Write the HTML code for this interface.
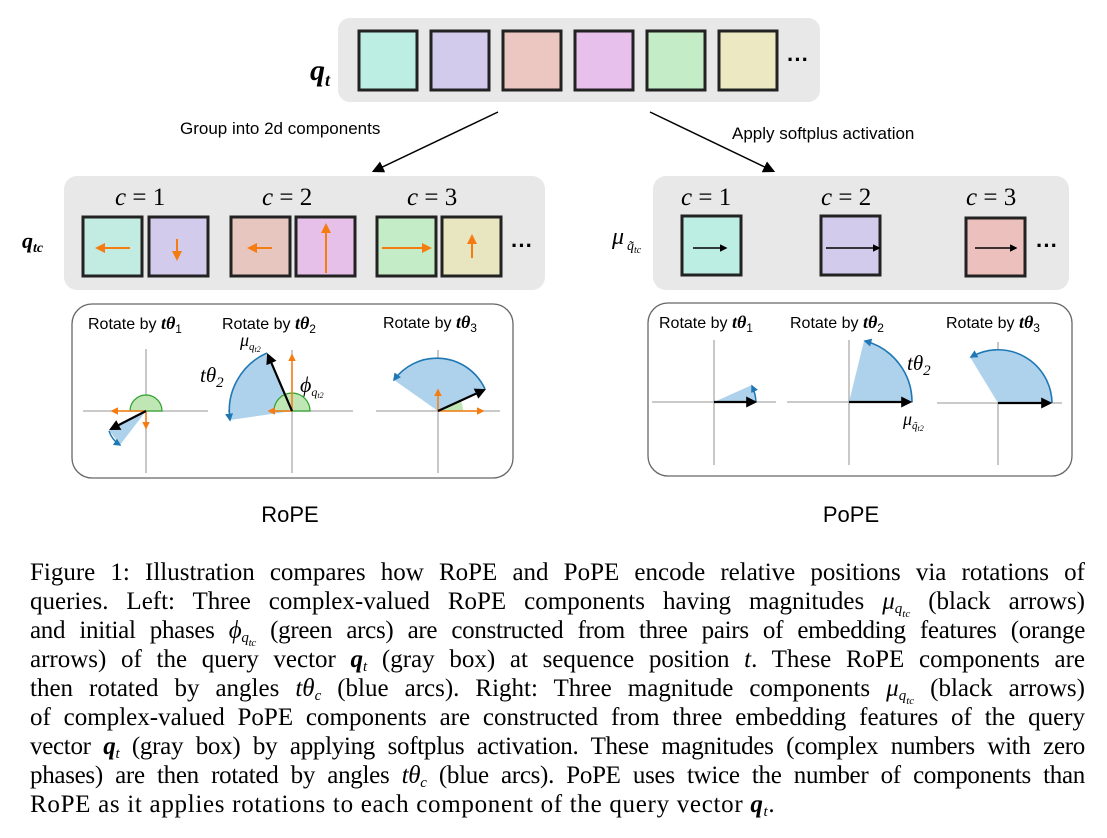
<!DOCTYPE html>
<html><head><meta charset="utf-8"><style>
body{margin:0;background:#fff;width:1107px;height:838px;overflow:hidden;position:relative}
svg{position:absolute;left:0;top:0}
.cap{position:absolute;left:30px;width:1055px;font-family:"Liberation Serif",serif;font-size:25px;line-height:29px;text-align:justify;text-align-last:justify;white-space:nowrap;color:#000}
.cap.l{text-align-last:left;letter-spacing:0.7px}
.cap.t{letter-spacing:-0.3px}
i{font-style:italic}
sub{font-size:15px;vertical-align:-4px;line-height:0}
sub sub{font-size:11px}
</style></head><body>
<svg width="1107" height="838" viewBox="0 0 1107 838" font-family="Liberation Sans, sans-serif">
<defs>
<marker id="ab" viewBox="0 0 10 10" refX="8" refY="5" markerWidth="5" markerHeight="5" orient="auto"><path d="M0,0L10,5L0,10z" fill="#000"/></marker>
<marker id="ao" viewBox="0 0 10 10" refX="8" refY="5" markerWidth="5" markerHeight="5" orient="auto"><path d="M0,0L10,5L0,10z" fill="#f57c10"/></marker>
<marker id="au" viewBox="0 0 10 10" refX="8" refY="5" markerWidth="5" markerHeight="5" orient="auto"><path d="M0,0L10,5L0,10z" fill="#1f77b4"/></marker>
<marker id="ak" viewBox="0 0 10 10" refX="8" refY="5" markerWidth="8" markerHeight="8" orient="auto"><path d="M0,0L10,5L0,10z" fill="#000"/></marker>
</defs>
<rect x="338" y="18" width="482" height="84" rx="12" fill="#e8e8e8"/>
<text x="310" y="80" font-family="Liberation Serif,serif" font-style="italic" font-weight="bold" font-size="30">q<tspan font-size="18" dy="6">t</tspan></text>
<g stroke="#222" stroke-width="3">
<rect x="359" y="31" width="58" height="59" fill="#bdeee4"/>
<rect x="431" y="31" width="58" height="59" fill="#d2cbec"/>
<rect x="503" y="31" width="58" height="59" fill="#ecc6c0"/>
<rect x="575" y="31" width="58" height="59" fill="#e8c0ec"/>
<rect x="647" y="31" width="58" height="59" fill="#c4ecc6"/>
<rect x="719" y="31" width="58" height="59" fill="#ece9c2"/>
</g>
<text x="787" y="67" font-size="22" font-weight="bold">···</text>
<line x1="498" y1="112" x2="374" y2="171" stroke="#000" stroke-width="1.5" marker-end="url(#ak)"/>
<line x1="650" y1="112" x2="773" y2="171" stroke="#000" stroke-width="1.5" marker-end="url(#ak)"/>
<text x="180" y="134" font-size="17">Group into 2d components</text>
<text x="732" y="139" font-size="17">Apply softplus activation</text>
<rect x="64" y="176" width="481" height="114" rx="13" fill="#e8e8e8"/>
<text x="22" y="248" font-family="Liberation Serif,serif" font-style="italic" font-weight="bold" font-size="22">q<tspan font-size="14" dy="4">tc</tspan></text>
<g font-family="Liberation Serif,serif" font-size="25"><text x="115" y="205"><tspan font-style="italic">c</tspan> = 1</text><text x="262" y="205"><tspan font-style="italic">c</tspan> = 2</text><text x="407" y="205"><tspan font-style="italic">c</tspan> = 3</text></g>
<g stroke="#222" stroke-width="3">
<rect x="83" y="217" width="59" height="59" fill="#c2ebe2"/>
<rect x="149" y="217" width="59" height="59" fill="#d2cbec"/>
<rect x="231" y="217" width="59" height="59" fill="#e8c6c0"/>
<rect x="296" y="217" width="59" height="59" fill="#e6c0e8"/>
<rect x="377" y="217" width="59" height="59" fill="#c4ecc6"/>
<rect x="442" y="217" width="59" height="59" fill="#e8e6c0"/>
</g>
<g stroke="#f57c10" stroke-width="2">
<line x1="130" y1="248" x2="97" y2="248" marker-end="url(#ao)"/>
<line x1="177" y1="239" x2="177" y2="259" marker-end="url(#ao)"/>
<line x1="272" y1="248" x2="249" y2="248" marker-end="url(#ao)"/>
<line x1="326" y1="273" x2="326" y2="225" marker-end="url(#ao)"/>
<line x1="382" y1="248" x2="430" y2="248" marker-end="url(#ao)"/>
<line x1="472" y1="258" x2="472" y2="236" marker-end="url(#ao)"/>
</g>
<text x="511" y="253" font-size="22" font-weight="bold">···</text>
<rect x="653" y="176" width="416" height="114" rx="13" fill="#e8e8e8"/>
<text x="612" y="244" font-family="Liberation Serif,serif" font-style="italic" font-size="24">μ</text>
<text x="627" y="250" font-family="Liberation Serif,serif" font-style="italic" font-size="14">q̃<tspan font-size="10" dy="3">tc</tspan></text>
<g font-family="Liberation Serif,serif" font-size="25"><text x="681" y="205"><tspan font-style="italic">c</tspan> = 1</text><text x="821" y="205"><tspan font-style="italic">c</tspan> = 2</text><text x="966" y="205"><tspan font-style="italic">c</tspan> = 3</text></g>
<g stroke="#222" stroke-width="3">
<rect x="682" y="216" width="59" height="59" fill="#bdeee4"/>
<rect x="821" y="216" width="59" height="59" fill="#d2cbec"/>
<rect x="966" y="218" width="59" height="58" fill="#ecc0bc"/>
</g>
<g stroke="#000" stroke-width="1.5">
<line x1="693" y1="248" x2="726" y2="248" marker-end="url(#ab)"/>
<line x1="826" y1="248" x2="879" y2="248" marker-end="url(#ab)"/>
<line x1="975" y1="248" x2="1016" y2="248" marker-end="url(#ab)"/>
</g>
<text x="1036" y="253" font-size="22" font-weight="bold">···</text>
<rect x="72" y="304" width="441" height="174" rx="20" fill="#fff" stroke="#666" stroke-width="1.3"/>
<rect x="648" y="303" width="424" height="173" rx="20" fill="#fff" stroke="#666" stroke-width="1.3"/>
<g font-size="16">
<text x="88" y="329">Rotate by <tspan font-family="Liberation Serif,serif" font-style="italic" font-weight="bold" font-size="18">tθ</tspan><tspan font-size="12" dy="4">1</tspan></text>
<text x="222" y="329">Rotate by <tspan font-family="Liberation Serif,serif" font-style="italic" font-weight="bold" font-size="18">tθ</tspan><tspan font-size="12" dy="4">2</tspan></text>
<text x="383" y="328">Rotate by <tspan font-family="Liberation Serif,serif" font-style="italic" font-weight="bold" font-size="18">tθ</tspan><tspan font-size="12" dy="4">3</tspan></text>
<text x="659" y="328">Rotate by <tspan font-family="Liberation Serif,serif" font-style="italic" font-weight="bold" font-size="18">tθ</tspan><tspan font-size="12" dy="4">1</tspan></text>
<text x="790" y="328">Rotate by <tspan font-family="Liberation Serif,serif" font-style="italic" font-weight="bold" font-size="18">tθ</tspan><tspan font-size="12" dy="4">2</tspan></text>
<text x="946" y="328">Rotate by <tspan font-family="Liberation Serif,serif" font-style="italic" font-weight="bold" font-size="18">tθ</tspan><tspan font-size="12" dy="4">3</tspan></text>
</g>
<g stroke="#aaa" stroke-width="1.3">
<line x1="83" y1="411" x2="208" y2="411"/><line x1="146" y1="349" x2="146" y2="473"/>
<line x1="228" y1="411" x2="353" y2="411"/><line x1="292" y1="350" x2="292" y2="473"/>
<line x1="376" y1="411" x2="500" y2="411"/><line x1="438" y1="350" x2="438" y2="473"/>
<line x1="652" y1="402" x2="776" y2="402"/><line x1="714" y1="340" x2="714" y2="465"/>
<line x1="787" y1="402" x2="913" y2="402"/><line x1="849" y1="340" x2="849" y2="465"/>
<line x1="937" y1="403" x2="1062" y2="403"/><line x1="998" y1="342" x2="998" y2="465"/>
</g>
<path d="M130,411 A16,16 0 0 1 162,411 Z" fill="#bfe6b4" stroke="#2ca02c" stroke-width="1.2"/>
<path d="M146,411 L109,430 L120,445 Z" fill="#aed2ec"/>
<path d="M109,431 Q112,440 120,445" fill="none" stroke="#1f77b4" stroke-width="1.5" marker-end="url(#au)"/>
<line x1="146" y1="411" x2="112" y2="411" stroke="#f57c10" stroke-width="1.5" marker-end="url(#ao)"/>
<line x1="146" y1="411" x2="146" y2="428" stroke="#f57c10" stroke-width="1.5" marker-end="url(#ao)"/>
<line x1="146" y1="411" x2="111" y2="429" stroke="#000" stroke-width="2.2" marker-end="url(#ab)"/>
<path d="M292,411 L267,353 A63,63 0 0 0 230,420 Z" fill="#aed2ec"/>
<path d="M267,353 A63,63 0 0 0 230,420" fill="none" stroke="#1f77b4" stroke-width="1.6" marker-end="url(#au)"/>
<path d="M274,411 A18,18 0 0 1 310,411 Z" fill="#bfe6b4" stroke="#2ca02c" stroke-width="1.2"/>
<line x1="292" y1="411" x2="292" y2="355" stroke="#f57c10" stroke-width="1.5" marker-end="url(#ao)"/>
<line x1="292" y1="411" x2="269" y2="411" stroke="#f57c10" stroke-width="1.5" marker-end="url(#ao)"/>
<line x1="292" y1="411" x2="268" y2="355" stroke="#000" stroke-width="2.2" marker-end="url(#ab)"/>
<text x="200" y="382" font-family="Liberation Serif,serif" font-style="italic" font-size="21">tθ<tspan font-size="15" dy="5">2</tspan></text>
<text x="240" y="346" font-family="Liberation Serif,serif" font-style="italic" font-size="18">μ<tspan font-size="11" dy="4">q</tspan><tspan font-size="8" dy="2">t2</tspan></text>
<text x="300" y="392" font-family="Liberation Serif,serif" font-style="italic" font-size="22">ϕ<tspan font-size="12" dy="4">q</tspan><tspan font-size="8" dy="2">t2</tspan></text>
<path d="M438,411 L485,389 A53,53 0 0 0 394,380 Z" fill="#aed2ec"/>
<path d="M485,389 A53,53 0 0 0 394,380" fill="none" stroke="#1f77b4" stroke-width="1.6" marker-end="url(#au)"/>
<path d="M463,411 A25,25 0 0 0 461,401 L438,411 Z" fill="#bfe6b4"/>
<line x1="438" y1="411" x2="438" y2="390" stroke="#f57c10" stroke-width="1.5" marker-end="url(#ao)"/>
<line x1="438" y1="411" x2="483" y2="411" stroke="#f57c10" stroke-width="1.5" marker-end="url(#ao)"/>
<line x1="438" y1="411" x2="484" y2="390" stroke="#000" stroke-width="2.2" marker-end="url(#ab)"/>
<path d="M714,402 L752,385 A42,42 0 0 1 756,402 Z" fill="#aed2ec"/>
<path d="M756,402 A42,42 0 0 0 752,386" fill="none" stroke="#1f77b4" stroke-width="1.5" marker-end="url(#au)"/>
<line x1="714" y1="402" x2="755" y2="402" stroke="#000" stroke-width="2.2" marker-end="url(#ab)"/>
<path d="M849,402 L912,402 A63,63 0 0 0 864,341 Z" fill="#aed2ec"/>
<path d="M912,402 A63,63 0 0 0 865,341" fill="none" stroke="#1f77b4" stroke-width="1.6" marker-end="url(#au)"/>
<line x1="849" y1="402" x2="910" y2="402" stroke="#000" stroke-width="2.2" marker-end="url(#ab)"/>
<text x="907" y="370" font-family="Liberation Serif,serif" font-style="italic" font-size="21">tθ<tspan font-size="15" dy="5">2</tspan></text>
<text x="903" y="425" font-family="Liberation Serif,serif" font-style="italic" font-size="18">μ<tspan font-size="11" dy="4">q̃</tspan><tspan font-size="8" dy="2">t2</tspan></text>
<path d="M998,403 L1052,403 A54,54 0 0 0 970,357 Z" fill="#aed2ec"/>
<path d="M1052,403 A54,54 0 0 0 971,357" fill="none" stroke="#1f77b4" stroke-width="1.6" marker-end="url(#au)"/>
<line x1="998" y1="403" x2="1050" y2="403" stroke="#000" stroke-width="2.2" marker-end="url(#ab)"/>
<text x="290" y="522" font-size="22" text-anchor="middle">RoPE</text>
<text x="851" y="522" font-size="22" text-anchor="middle">PoPE</text>
</svg>
<div class="cap" style="top:558px">Figure 1: Illustration compares how RoPE and PoPE encode relative positions via rotations of</div>
<div class="cap" style="top:587px">queries. Left: Three complex-valued RoPE components having magnitudes <i>μ</i><sub><i>q<sub>tc</sub></i></sub> (black arrows)</div>
<div class="cap t" style="top:616px">and initial phases <i>ϕ</i><sub><i>q<sub>tc</sub></i></sub> (green arcs) are constructed from three pairs of embedding features (orange</div>
<div class="cap" style="top:645px">arrows) of the query vector <b><i>q</i></b><sub><i>t</i></sub> (gray box) at sequence position <i>t</i>. These RoPE components are</div>
<div class="cap" style="top:674px">then rotated by angles <i>tθ</i><sub><i>c</i></sub> (blue arcs). Right: Three magnitude components <i>μ</i><sub><i>q<sub>tc</sub></i></sub> (black arrows)</div>
<div class="cap" style="top:703px">of complex-valued PoPE components are constructed from three embedding features of the query</div>
<div class="cap t" style="top:732px">vector <b><i>q</i></b><sub><i>t</i></sub> (gray box) by applying softplus activation. These magnitudes (complex numbers with zero</div>
<div class="cap t" style="top:761px">phases) are then rotated by angles <i>tθ</i><sub><i>c</i></sub> (blue arcs). PoPE uses twice the number of components than</div>
<div class="cap l" style="top:790px">RoPE as it applies rotations to each component of the query vector <b><i>q</i></b><sub><i>t</i></sub>.</div>
</body></html>
